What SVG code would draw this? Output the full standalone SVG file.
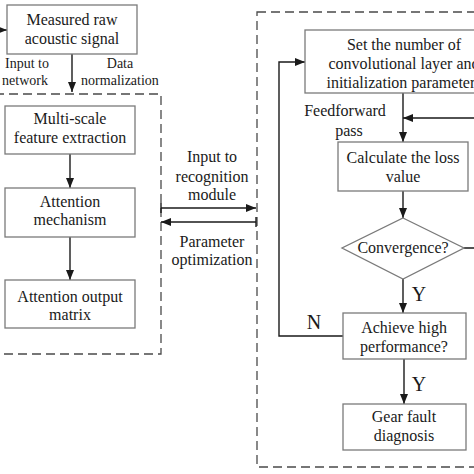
<svg xmlns="http://www.w3.org/2000/svg" width="474" height="474" viewBox="0 0 474 474">
<style>
.box{fill:#fff;stroke:#7a7a7a;stroke-width:1.3}
.dash{fill:none;stroke:#4a4a4a;stroke-width:1.3;stroke-dasharray:9 5}
.ln{fill:none;stroke:#1a1a1a;stroke-width:1.4}
text{font-family:"Liberation Serif","Times New Roman",serif;fill:#1a1a1a;text-anchor:middle}
.t{font-size:16px}
.s{font-size:14px}
.yn{font-size:20px}
</style>
<defs>
<marker id="ah" markerWidth="10" markerHeight="8" refX="10" refY="4" orient="auto" markerUnits="userSpaceOnUse">
<path d="M0,0 L10,4 L0,8 Z" fill="#1a1a1a"/>
</marker>
</defs>
<rect width="474" height="474" fill="#fff"/>
<g id="groups">
<rect class="dash" x="-5" y="94" width="166" height="260"/>
<rect class="dash" x="257" y="12" width="240" height="455"/>
</g>
<g id="connectors">
<line class="ln" x1="0" y1="30" x2="7" y2="30" marker-end="url(#ah)"/>
<line class="ln" x1="72" y1="54" x2="72" y2="92" marker-end="url(#ah)"/>
<line class="ln" x1="70" y1="154" x2="70" y2="188" marker-end="url(#ah)"/>
<line class="ln" x1="70" y1="237" x2="70" y2="280" marker-end="url(#ah)"/>
<line class="ln" x1="161" y1="208" x2="256" y2="208" marker-end="url(#ah)"/>
<line class="ln" x1="161" y1="203" x2="161" y2="213"/>
<line class="ln" x1="256" y1="222" x2="161" y2="222" marker-end="url(#ah)"/>
<line class="ln" x1="256" y1="217" x2="256" y2="227"/>
<line class="ln" x1="403" y1="93" x2="403" y2="142" marker-end="url(#ah)"/>
<path class="ln" d="M464,248 H490 V118 H403" marker-end="url(#ah)"/>
<line class="ln" x1="403" y1="191" x2="403" y2="218" marker-end="url(#ah)"/>
<line class="ln" x1="403" y1="279" x2="403" y2="313" marker-end="url(#ah)"/>
<line class="ln" x1="404" y1="359" x2="404" y2="404" marker-end="url(#ah)"/>
<path class="ln" d="M343,336 H279 V62 H305" marker-end="url(#ah)"/>
<text class="s" x="27" y="68">Input to</text>
<text class="s" x="25" y="85">network</text>
<text class="s" x="120" y="68">Data</text>
<text class="s" x="120" y="85">normalization</text>
<text class="t" x="212" y="162">Input to</text>
<text class="t" x="212" y="182">recognition</text>
<text class="t" x="212" y="200">module</text>
<text class="t" x="212" y="247">Parameter</text>
<text class="t" x="212" y="265">optimization</text>
<text class="t" x="345" y="116">Feedforward</text>
<text class="t" x="349" y="136">pass</text>
<text class="yn" x="419" y="301">Y</text>
<text class="yn" x="314" y="329">N</text>
<text class="yn" x="419" y="391">Y</text>
</g>
<g id="n1">
<rect class="box" x="7" y="5" width="130" height="49"/>
<text class="t" x="72" y="25">Measured raw</text>
<text class="t" x="72" y="44">acoustic signal</text>
</g>
<g id="n2">
<rect class="box" x="5" y="106" width="130" height="48"/>
<text class="t" x="70" y="124">Multi-scale</text>
<text class="t" x="70" y="143">feature extraction</text>
</g>
<g id="n3">
<rect class="box" x="5" y="188" width="130" height="49"/>
<text class="t" x="70" y="207">Attention</text>
<text class="t" x="70" y="225">mechanism</text>
</g>
<g id="n4">
<rect class="box" x="5" y="280" width="130" height="48"/>
<text class="t" x="70" y="302">Attention output</text>
<text class="t" x="70" y="320">matrix</text>
</g>
<g id="n5">
<rect class="box" x="305" y="30" width="198" height="63"/>
<text class="t" x="404" y="50">Set the number of</text>
<text class="t" x="404" y="69">convolutional layer and</text>
<text class="t" x="404" y="88">initialization parameters</text>
</g>
<g id="n6">
<rect class="box" x="338" y="142" width="130" height="49"/>
<text class="t" x="403" y="163">Calculate the loss</text>
<text class="t" x="403" y="182">value</text>
</g>
<g id="n7">
<polygon class="box" points="403,218 464,248 403,279 342,248"/>
<text class="t" x="403" y="253">Convergence?</text>
</g>
<g id="n8">
<rect class="box" x="343" y="313" width="123" height="46"/>
<text class="t" x="404" y="333">Achieve high</text>
<text class="t" x="404" y="352">performance?</text>
</g>
<g id="n9">
<rect class="box" x="343" y="404" width="123" height="46"/>
<text class="t" x="404" y="422">Gear fault</text>
<text class="t" x="404" y="441">diagnosis</text>
</g>
</svg>
